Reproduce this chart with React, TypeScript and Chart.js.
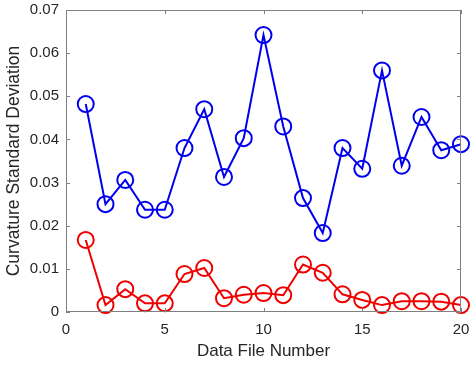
import React, { useEffect, useRef } from "react";
import { Chart, registerables } from "chart.js";

Chart.register(...registerables);

const fileNumbers = [1, 2, 3, 4, 5, 6, 7, 8, 9, 10, 11, 12, 13, 14, 15, 16, 17, 18, 19, 20];
const blueValues = [0.0482, 0.025, 0.0306, 0.0237, 0.0237, 0.038, 0.047, 0.0313, 0.0403, 0.0642, 0.043, 0.0264, 0.0183, 0.038, 0.0332, 0.056, 0.0339, 0.0452, 0.0375, 0.0389];
const redValues = [0.0167, 0.0016, 0.0053, 0.002, 0.002, 0.0088, 0.0102, 0.0032, 0.004, 0.0044, 0.0039, 0.011, 0.0091, 0.0041, 0.0028, 0.0016, 0.0025, 0.0025, 0.0024, 0.0016];
const xTicks = [0, 5, 10, 15, 20];
const yTicks = [0, 0.01, 0.02, 0.03, 0.04, 0.05, 0.06, 0.07];
const xTitle = "Data File Number";
const yTitle = "Curvature Standard Deviation";

const FONT = "'Liberation Sans', Arial, Helvetica, sans-serif";
const TEXT = "#262626";
const FRAME = "#808080";

const framePlugin = {
  id: "matlabFrame",
  afterDatasetsDraw(chart: any) {
    const { ctx, chartArea, scales } = chart;
    const { left, right, top, bottom } = chartArea;
    ctx.save();
    ctx.strokeStyle = FRAME;
    ctx.lineWidth = 1;
    ctx.beginPath();
    ctx.rect(left + 0.5, top + 0.5, right - left - 1, bottom - top - 1);
    ctx.stroke();
    const tl = 4;
    ctx.beginPath();
    xTicks.forEach((v) => {
      const px = Math.round(scales.x.getPixelForValue(v)) + 0.5;
      ctx.moveTo(px, bottom);
      ctx.lineTo(px, bottom - tl);
      ctx.moveTo(px, top);
      ctx.lineTo(px, top + tl);
    });
    yTicks.forEach((v) => {
      const py = Math.round(scales.y.getPixelForValue(v)) + 0.5;
      ctx.moveTo(left, py);
      ctx.lineTo(left + tl, py);
      ctx.moveTo(right, py);
      ctx.lineTo(right - tl, py);
    });
    ctx.stroke();
    ctx.restore();
  },
};

export default function App() {
  const ref = useRef<HTMLCanvasElement | null>(null);
  useEffect(() => {
    document.body.style.margin = "0";
    const canvas = ref.current;
    if (!canvas) return;
    const chart = new Chart(canvas, {
      type: "line",
      data: {
        datasets: [
          {
            data: fileNumbers.map((x, i) => ({ x, y: blueValues[i] })),
            borderColor: "#0000ee",
            backgroundColor: "rgba(0,0,0,0)",
            borderWidth: 2,
            pointStyle: "circle",
            pointRadius: 8,
            pointBorderWidth: 2,
            pointBorderColor: "#0000ee",
            pointBackgroundColor: "rgba(0,0,0,0)",
            tension: 0,
            clip: false as any,
          },
          {
            data: fileNumbers.map((x, i) => ({ x, y: redValues[i] })),
            borderColor: "#ee0000",
            backgroundColor: "rgba(0,0,0,0)",
            borderWidth: 2,
            pointStyle: "circle",
            pointRadius: 8,
            pointBorderWidth: 2,
            pointBorderColor: "#ee0000",
            pointBackgroundColor: "rgba(0,0,0,0)",
            tension: 0,
            clip: false as any,
          },
        ],
      },
      options: {
        animation: false,
        responsive: false,
        devicePixelRatio: 1,
        layout: { padding: { top: 10, right: 13, left: 0, bottom: 0 } },
        plugins: { legend: { display: false }, tooltip: { enabled: false } },
        scales: {
          x: {
            type: "linear",
            min: 0,
            max: 20,
            afterBuildTicks: (s: any) => {
              s.ticks = xTicks.map((v) => ({ value: v }));
            },
            afterFit: (s: any) => {
              s.height = 53;
              s.paddingLeft = 0;
              s.paddingRight = 0;
            },
            ticks: {
              color: TEXT,
              font: { family: FONT, size: 15 },
              padding: 9,
              maxRotation: 0,
              callback: (v: any) => String(v),
            },
            grid: { display: false, drawTicks: false },
            border: { display: false },
            title: {
              display: true,
              text: xTitle,
              color: TEXT,
              font: { family: FONT, size: 17 },
              padding: { top: 3, bottom: 3 },
            },
          },
          y: {
            type: "linear",
            min: 0,
            max: 0.07,
            afterBuildTicks: (s: any) => {
              s.ticks = yTicks.map((v) => ({ value: v }));
            },
            afterFit: (s: any) => {
              s.width = 66;
              s.paddingTop = 0;
              s.paddingBottom = 0;
            },
            ticks: {
              color: TEXT,
              font: { family: FONT, size: 15 },
              padding: 7,
              callback: (v: any) => (v === 0 ? "0" : Number(v).toFixed(2)),
            },
            grid: { display: false, drawTicks: false },
            border: { display: false },
            title: {
              display: true,
              text: yTitle,
              color: TEXT,
              font: { family: FONT, size: 17.5 },
              padding: { top: 4, bottom: 4 },
            },
          },
        },
      },
      plugins: [framePlugin],
    });
    return () => chart.destroy();
  }, []);
  return (
    <div style={{ width: 474, height: 365, background: "#fff" }}>
      <canvas ref={ref} width={474} height={365} style={{ display: "block" }} />
    </div>
  );
}
